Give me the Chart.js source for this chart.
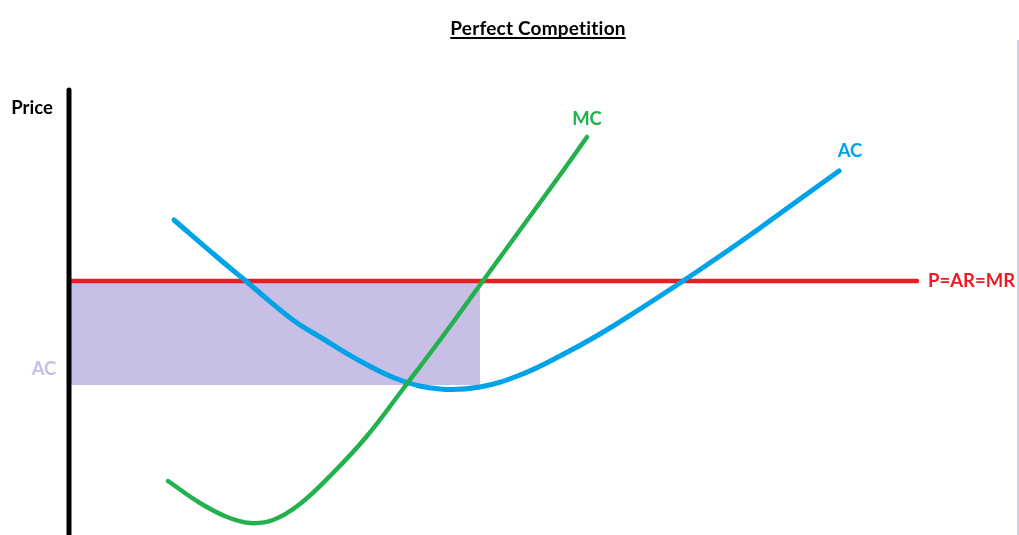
<!DOCTYPE html>
<html>
<head>
<meta charset="utf-8">
<title>Perfect Competition</title>
<script src="https://cdn.jsdelivr.net/npm/chart.js@4"></script>
<style>
  body { margin: 0; background: #fff; }
  #wrap { width: 1019px; height: 535px; position: relative; }
</style>
</head>
<body>
<div id="wrap"><canvas id="pcChart"></canvas></div>
<script>
// quantity / price values
const acQty   = [10.5, 14.8, 17.8, 22.4, 25.1, 29.1, 33.1, 37.1, 41.1, 45.1, 49.1, 53.1, 57.1, 61.1, 65.1, 69.1, 73.1, 77.0];
const acCost  = [31.5, 27.8, 25.3, 21.5, 19.8, 17.4, 15.5, 14.6, 14.8, 16.0, 17.9, 20.1, 22.6, 25.2, 27.9, 30.7, 33.6, 36.4];
const mcQty   = [9.9, 13.1, 15.8, 18.1, 20.4, 23.1, 26.4, 29.8, 33.4, 37.4, 41.1, 45.1, 49.1, 51.8];
const mcCost  = [5.4, 3.2, 1.8, 1.2, 1.5, 3.1, 6.2, 9.9, 14.6, 19.9, 25.0, 30.5, 36.0, 39.8];
const price   = 25.4;     // P = AR = MR
const priceEnd = 84.8;    // where the price line stops
const outputQ = 41.1;     // quantity where MC = MR
const avgCost = 15.0;     // AC at that quantity
const axisTop = 44.5;

const pts = (xs, ys) => xs.map((x, i) => ({ x: x, y: ys[i] }));

// text labels [text, x, y, colour, align]
const labels = [
    ['Price', -3.7, 42.7, '#000000', 'center'],
    ['MC', 51.8, 41.6, '#22b14c', 'center'],
    ['AC', 78.1, 38.4, '#00a2e8', 'center'],
    ['P=AR=MR', 85.9, 25.4, '#ed1c24', 'left'],
    ['AC', -2.5, 16.6, '#c8bfe7', 'center']
];

const textPlugin = {
    id: 'textPlugin',
    afterDatasetsDraw(chart) {
        const c = chart.ctx, sx = chart.scales.x, sy = chart.scales.y;
        c.save();
        c.textBaseline = 'middle';
        c.font = 'bold 18.5px Lato, "Open Sans", sans-serif';
        labels.forEach(l => {
            c.fillStyle = l[3];
            c.textAlign = l[4];
            c.fillText(l[0], sx.getPixelForValue(l[1]), sy.getPixelForValue(l[2]));
        });
        // underlined title
        const tx = sx.getPixelForValue(46.9), ty = sy.getPixelForValue(50.6);
        c.font = 'bold 19px Lato, "Open Sans", sans-serif';
        c.letterSpacing = '0.2px';
        c.fillStyle = '#000';
        c.textAlign = 'center';
        c.fillText('Perfect Competition', tx, ty);
        const w = c.measureText('Perfect Competition').width;
        c.fillRect(tx - w / 2, ty + 8, w, 2);
        c.restore();
    }
};

const ctx = document.getElementById('pcChart').getContext('2d');
new Chart(ctx, {
    type: 'line',
    data: {
        datasets: [
            {
                label: 'axis',
                data: [{ x: 0, y: 0 }, { x: 0, y: axisTop }],
                borderColor: '#000000',
                borderWidth: 5,
                order: 0
            },
            {
                label: 'MC',
                data: pts(mcQty, mcCost),
                borderColor: '#22b14c',
                borderWidth: 4.5,
                tension: 0.4,
                order: 1
            },
            {
                label: 'AC',
                data: pts(acQty, acCost),
                borderColor: '#00a2e8',
                borderWidth: 5,
                tension: 0.4,
                order: 2
            },
            {
                label: 'P=AR=MR',
                data: [{ x: 0, y: price }, { x: priceEnd, y: price }],
                borderColor: '#ed1c24',
                borderWidth: 4.5,
                order: 3
            },
            {
                label: 'profit',
                data: [{ x: 0, y: price }, { x: outputQ, y: price }],
                borderWidth: 0,
                borderColor: 'rgba(0,0,0,0)',
                backgroundColor: '#c8bfe7',
                fill: { value: avgCost },
                order: 4
            },
            {
                label: 'edge',
                data: [{ x: 94.9, y: 0 }, { x: 94.9, y: 49.5 }],
                borderColor: '#c8bfe7',
                borderWidth: 1.5,
                borderCapStyle: 'butt',
                order: 5
            }
        ]
    },
    options: {
        responsive: true,
        maintainAspectRatio: false,
        animation: false,
        layout: { padding: 0 },
        elements: {
            point: { radius: 0, hoverRadius: 0 },
            line: { borderCapStyle: 'round', tension: 0, fill: false }
        },
        scales: {
            x: { type: 'linear', min: -6.9, max: 95.0, display: false },
            y: { type: 'linear', min: 0, max: 53.5, display: false }
        },
        plugins: {
            legend: { display: false },
            tooltip: { enabled: false }
        }
    },
    plugins: [textPlugin]
});
</script>
</body>
</html>
